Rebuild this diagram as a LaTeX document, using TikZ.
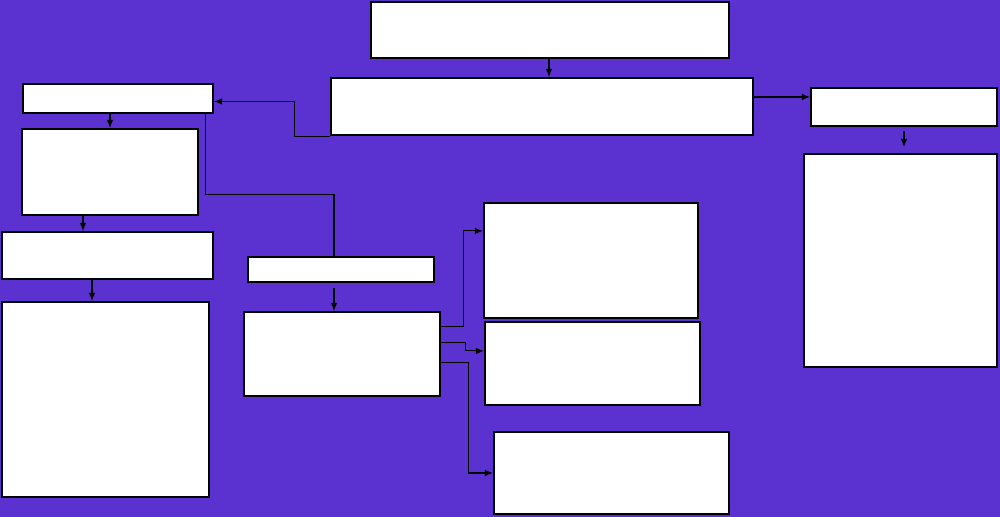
\documentclass[tikz,border=0pt]{standalone}
\usepackage{tikz}
\usetikzlibrary{shapes,arrows,positioning,calc,arrows.meta}
\definecolor{bgpurple}{RGB}{91,49,208}

\begin{document}
\begin{tikzpicture}[
    box/.style={draw, fill=white, line width=1.2pt, inner sep=0pt},
    arr/.style={-{Latex[length=1.6mm, width=1.3mm]}, line width=0.6pt}
]
    % background
    \fill[bgpurple] (0,0) rectangle (20,-10.34);
    \useasboundingbox (0,0) rectangle (20,-10.34);

    % top row
    \node[box, minimum width=7.16cm, minimum height=1.12cm] (top) at (11.00,-0.60) {};
    \node[box, minimum width=8.44cm, minimum height=1.14cm] (main) at (10.84,-2.13) {};

    % right column
    \node[box, minimum width=3.72cm, minimum height=0.76cm] (rhead) at (18.08,-2.14) {};
    \node[box, minimum width=3.86cm, minimum height=4.26cm] (rbody) at (18.01,-5.21) {};

    % left column
    \node[box, minimum width=3.80cm, minimum height=0.58cm] (lhead) at (2.36,-1.97) {};
    \node[box, minimum width=3.52cm, minimum height=1.72cm] (lbody) at (2.20,-3.44) {};
    \node[box, minimum width=4.22cm, minimum height=0.94cm] (lsub) at (2.15,-5.11) {};
    \node[box, minimum width=4.14cm, minimum height=3.90cm] (lbottom) at (2.11,-7.99) {};

    % middle column
    \node[box, minimum width=3.72cm, minimum height=0.50cm] (mhead) at (6.82,-5.39) {};
    \node[box, minimum width=3.92cm, minimum height=1.68cm] (mbody) at (6.84,-7.08) {};

    % branches
    \node[box, minimum width=4.28cm, minimum height=2.30cm] (bra) at (11.82,-5.21) {};
    \node[box, minimum width=4.30cm, minimum height=1.66cm] (brb) at (11.85,-7.27) {};
    \node[box, minimum width=4.70cm, minimum height=1.64cm] (brc) at (12.23,-9.46) {};

    % helper points
    \coordinate (tm) at ([xshift=-0.02cm]top.south);
    \coordinate (mr) at ([yshift=0.20cm]rhead.west);
    \coordinate (lf) at ([yshift=-0.06cm]lhead.east);
    \coordinate (fs) at ([xshift=-0.54cm]lbody.south);
    \coordinate (gs) at ([xshift=-0.31cm]lsub.south);
    \coordinate (ls) at ([xshift=-0.18cm]lhead.south east);
    \coordinate (mn) at ([xshift=-0.14cm]mhead.north);
    \coordinate (ms) at ([xshift=-0.14cm]mhead.south);
    \coordinate (ka) at ([yshift=-0.58cm]bra.north west);
    \coordinate (kb) at ([yshift=-0.60cm]brb.north west);

    % connectors
    \draw[arr] (tm) -- (tm |- main.north);
    \draw[arr] (main.east |- mr) -- (mr);
    \draw[arr, shorten <=0.08cm, shorten >=0.12cm] (rhead.south) -- (rhead.south |- rbody.north);
    \draw[arr] (main.south west) -- ++(-0.70,0) |- (lf);
    \draw[arr] (lbody.north |- lhead.south) -- (lbody.north);
    \draw[arr] (fs) -- (fs |- lsub.north);
    \draw[arr] (gs) -- (gs |- lbottom.north);
    \draw[line width=0.6pt] (ls) -- ++(0,-1.60) -| (mn);
    \draw[arr, shorten <=0.10cm] (ms) -- (ms |- mbody.north);
    \draw[arr] ([yshift=-0.32cm]mbody.north east) -- ++(0.44,0) |- (ka);
    \draw[arr] ([yshift=-0.64cm]mbody.north east) -- ++(0.48,0) |- (kb);
    \draw[arr] ([yshift=-1.04cm]mbody.north east) -- ++(0.54,0) |- (brc.west);
\end{tikzpicture}
\end{document}
